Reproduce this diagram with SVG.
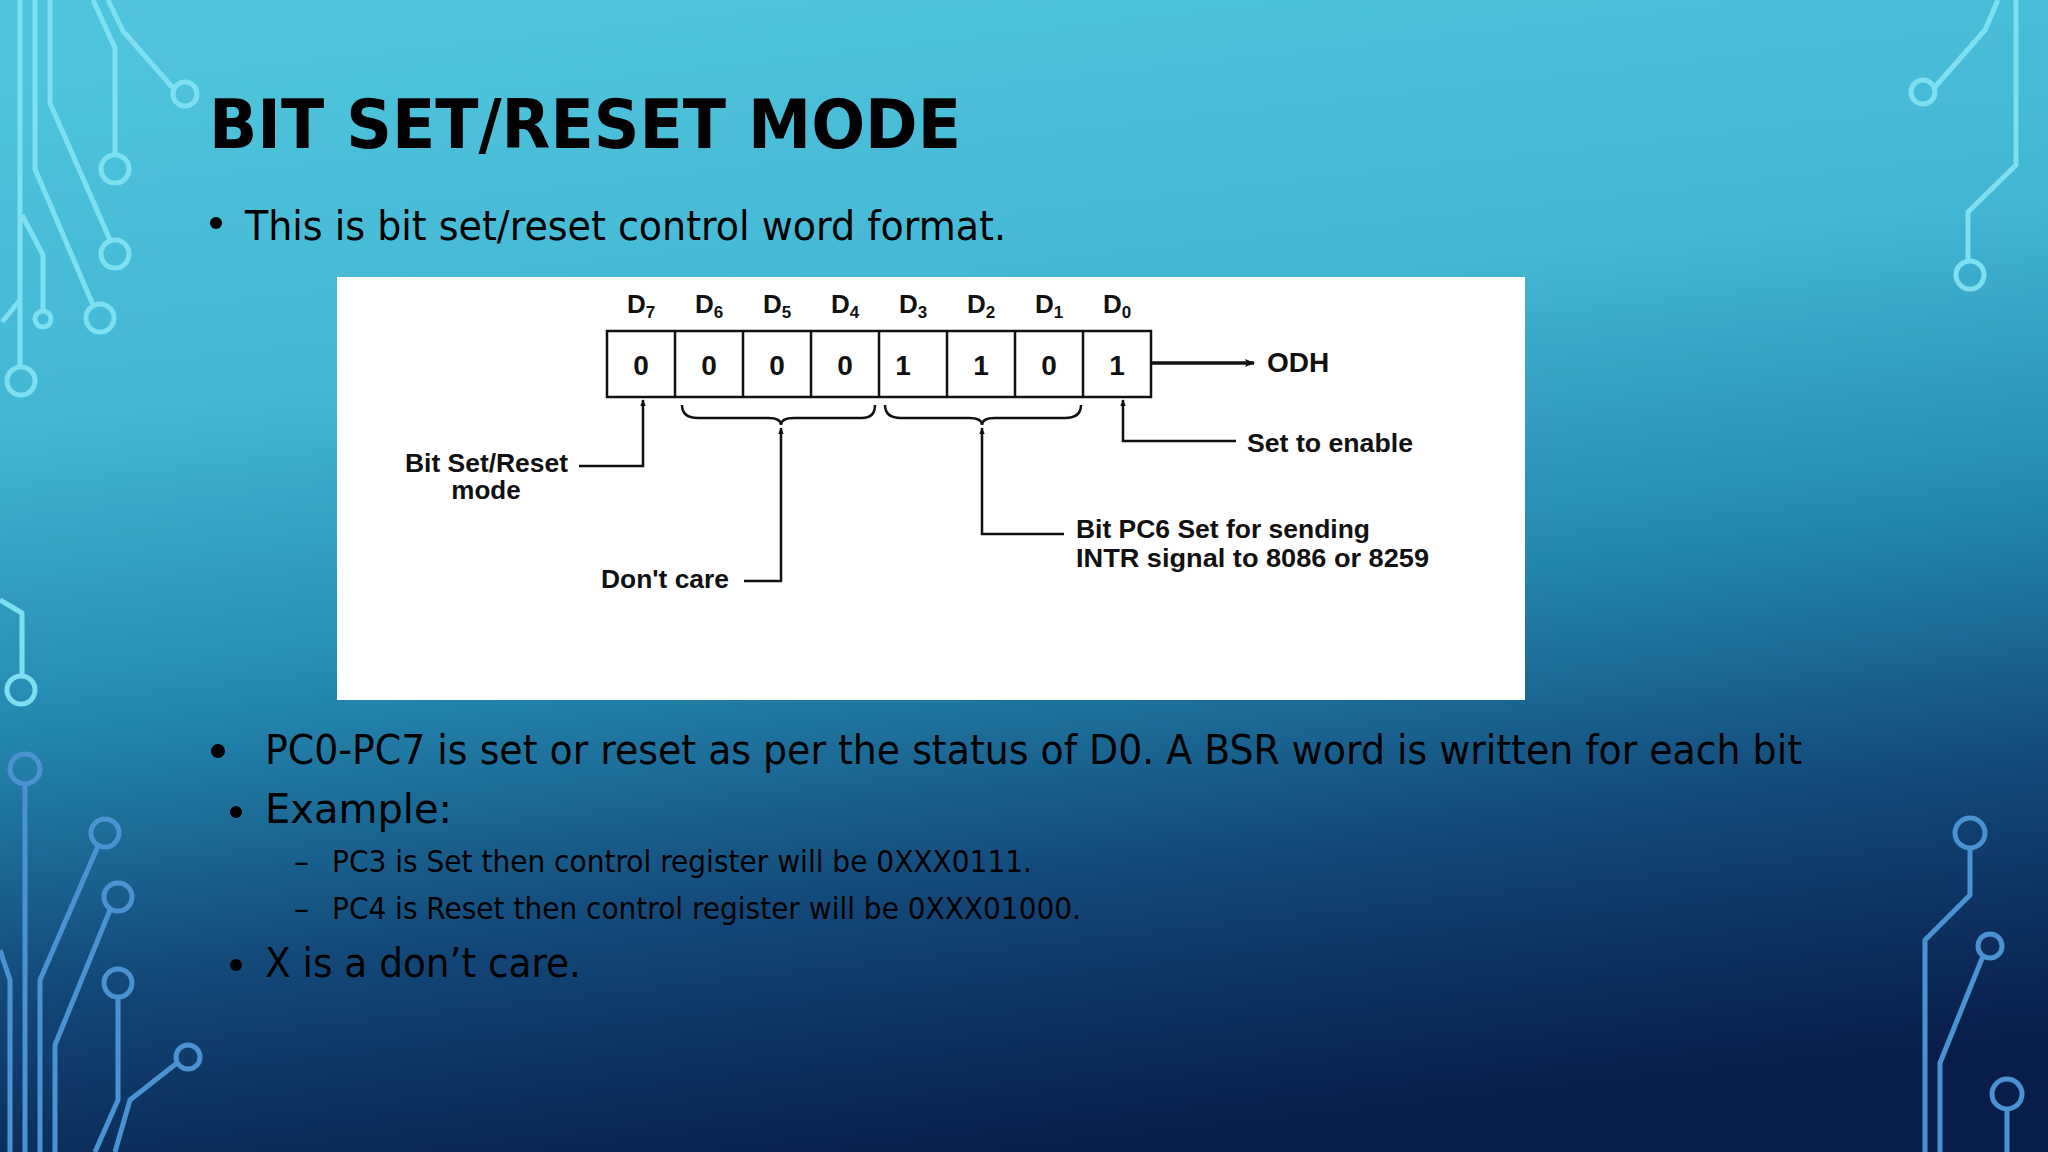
<svg xmlns="http://www.w3.org/2000/svg" width="2048" height="1152" viewBox="0 0 2048 1152">
<defs>
<linearGradient id="bg" x1="0.3" y1="0" x2="0.5" y2="1">
<stop offset="0" stop-color="#4fc4dc"/>
<stop offset="0.3" stop-color="#43b6d4"/>
<stop offset="0.55" stop-color="#2488b0"/>
<stop offset="0.78" stop-color="#124677"/>
<stop offset="1" stop-color="#091d4a"/>
</linearGradient>
<marker id="ah" viewBox="0 0 10 10" refX="9" refY="5" markerWidth="7" markerHeight="7" orient="auto-start-reverse" markerUnits="userSpaceOnUse"><path d="M0,1 L10,5 L0,9 Z" fill="#111"/></marker>
<marker id="ah2" viewBox="0 0 10 10" refX="9" refY="5" markerWidth="14" markerHeight="10" orient="auto" markerUnits="userSpaceOnUse"><path d="M0,1 L10,5 L0,9 L2,5 Z" fill="#111"/></marker>
</defs>
<style>
.ct{fill:none;stroke:#7ddff0;stroke-width:5;stroke-linejoin:round}
.cb{fill:none;stroke:#4a92d2;stroke-width:5;stroke-linejoin:round}
.ttl{font-family:"DejaVu Sans",sans-serif;font-weight:bold;font-size:68px;fill:#000}
.b1{font-family:"DejaVu Sans",sans-serif;font-size:40px;fill:#000}
.b2{font-family:"DejaVu Sans",sans-serif;font-size:30px;fill:#000}
.d{font-family:"Liberation Sans",Arial,sans-serif;font-weight:bold;fill:#111}
.ln{fill:none;stroke:#111;stroke-width:2.5}
.cell{fill:#fff;stroke:#111;stroke-width:2.5}
</style>
<rect width="2048" height="1152" fill="url(#bg)"/>
<g id="circuits">
<path class="ct" d="M20,0 V366"/><circle class="ct" cx="21" cy="381" r="14"/>
<path class="ct" d="M35,0 V169 L93,305"/><circle class="ct" cx="100" cy="318" r="14"/>
<path class="ct" d="M50,0 V103 L110,240"/><circle class="ct" cx="115" cy="254" r="14"/>
<path class="ct" d="M93,0 L115,48 V155"/><circle class="ct" cx="115" cy="169" r="14"/>
<path class="ct" d="M108,0 L123,31 L173,88"/><circle class="ct" cx="185" cy="94" r="12"/>
<path class="ct" d="M22,215 L43,255 V311"/><circle class="ct" cx="43" cy="319" r="8"/>
<path class="ct" d="M20,300 L2,322"/>
<path class="ct" d="M0,600 L22,613 V676"/><circle class="ct" cx="21" cy="690" r="14"/>
<circle class="cb" cx="25" cy="769" r="15"/><path class="cb" d="M25,784 V1152"/>
<circle class="cb" cx="105" cy="833" r="14"/><path class="cb" d="M98,846 L40,980 V1152"/>
<circle class="cb" cx="118" cy="897" r="14"/><path class="cb" d="M110,910 L55,1045 V1152"/>
<circle class="cb" cx="118" cy="983" r="14"/><path class="cb" d="M118,997 V1100 L95,1152"/>
<circle class="cb" cx="188" cy="1057" r="12"/><path class="cb" d="M177,1063 L130,1100 L115,1152"/>
<path class="cb" d="M0,950 L10,980 V1152"/>
<path class="ct" d="M1998,0 L1985,30 L1935,87"/><circle class="ct" cx="1923" cy="92" r="12"/>
<path class="ct" d="M2016,0 V165 L1968,212 V261"/><circle class="ct" cx="1970" cy="275" r="14"/>
<circle class="cb" cx="1970" cy="833" r="15"/><path class="cb" d="M1970,848 V895 L1925,940 V1152"/>
<circle class="cb" cx="1990" cy="946" r="12"/><path class="cb" d="M1983,956 L1940,1063 V1152"/>
<circle class="cb" cx="2007" cy="1094" r="15"/><path class="cb" d="M2007,1109 V1152"/>
</g>
<g id="title"><text class="ttl" x="209" y="148" textLength="752" lengthAdjust="spacingAndGlyphs">BIT SET/RESET MODE</text></g>
<g id="text1">
<circle cx="216" cy="223" r="6" fill="#000"/>
<text class="b1" x="245" y="240" textLength="761" lengthAdjust="spacingAndGlyphs">This is bit set/reset control word format.</text>
</g>
<g id="figure">
<rect x="337" y="277" width="1188" height="423" fill="#fff"/>
<g id="register">
<rect class="cell" x="607" y="331" width="544" height="66"/>
<path class="ln" d="M675,331V397 M743,331V397 M811,331V397 M879,331V397 M947,331V397 M1015,331V397 M1083,331V397"/>
<g class="d" font-size="28" text-anchor="middle">
<text x="641" y="375">0</text><text x="709" y="375">0</text><text x="777" y="375">0</text><text x="845" y="375">0</text>
<text x="903" y="375">1</text><text x="981" y="375">1</text><text x="1049" y="375">0</text><text x="1117" y="375">1</text>
</g>
<g class="d" font-size="26" text-anchor="middle">
<text x="641" y="313">D<tspan font-size="17" dy="5">7</tspan></text>
<text x="709" y="313">D<tspan font-size="17" dy="5">6</tspan></text>
<text x="777" y="313">D<tspan font-size="17" dy="5">5</tspan></text>
<text x="845" y="313">D<tspan font-size="17" dy="5">4</tspan></text>
<text x="913" y="313">D<tspan font-size="17" dy="5">3</tspan></text>
<text x="981" y="313">D<tspan font-size="17" dy="5">2</tspan></text>
<text x="1049" y="313">D<tspan font-size="17" dy="5">1</tspan></text>
<text x="1117" y="313">D<tspan font-size="17" dy="5">0</tspan></text>
</g>
</g>
<g id="connectors">
<path d="M1152,363 H1254" stroke="#111" stroke-width="3.5" fill="none" marker-end="url(#ah2)"/>
<path class="ln" d="M579,466 H643 V400" marker-end="url(#ah)"/>
<path class="ln" d="M682,405 Q682,418 698,418 H768 Q781,418 781,425 Q781,418 794,418 H862 Q875,418 875,405"/>
<path class="ln" d="M885,405 Q885,418 901,418 H969 Q982,418 982,425 Q982,418 995,418 H1065 Q1081,418 1081,405"/>
<path class="ln" d="M744,581 H781 V428" marker-end="url(#ah)"/>
<path class="ln" d="M1064,534 H982 V428" marker-end="url(#ah)"/>
<path class="ln" d="M1236,441 H1123 V400" marker-end="url(#ah)"/>
</g>
<g class="d" font-size="26">
<text x="1267" y="372" font-size="28">ODH</text>
<text x="405" y="472" textLength="163" lengthAdjust="spacingAndGlyphs">Bit Set/Reset</text>
<text x="486" y="499" text-anchor="middle">mode</text>
<text x="601" y="588" textLength="128" lengthAdjust="spacingAndGlyphs">Don't care</text>
<text x="1247" y="452" textLength="166" lengthAdjust="spacingAndGlyphs">Set to enable</text>
<text x="1076" y="538" textLength="294" lengthAdjust="spacingAndGlyphs">Bit PC6 Set for sending</text>
<text x="1076" y="567" textLength="353" lengthAdjust="spacingAndGlyphs">INTR signal to 8086 or 8259</text>
</g>
</g>
<g id="text2">
<circle cx="218" cy="751" r="7" fill="#000"/>
<text class="b1" x="265" y="764" textLength="1537" lengthAdjust="spacingAndGlyphs">PC0-PC7 is set or reset as per the status of D0. A BSR word is written for each bit</text>
<circle cx="236" cy="812" r="6" fill="#000"/>
<text class="b1" x="265" y="823">Example:</text>
<text class="b2" x="294" y="872">–</text>
<text class="b2" x="332" y="872" textLength="700" lengthAdjust="spacingAndGlyphs">PC3 is Set then control register will be 0XXX0111.</text>
<text class="b2" x="294" y="919">–</text>
<text class="b2" x="332" y="919" textLength="749" lengthAdjust="spacingAndGlyphs">PC4 is Reset then control register will be 0XXX01000.</text>
<circle cx="236" cy="965" r="6" fill="#000"/>
<text class="b1" x="265" y="977" textLength="316" lengthAdjust="spacingAndGlyphs">X is a don’t care.</text>
</g>
</svg>
